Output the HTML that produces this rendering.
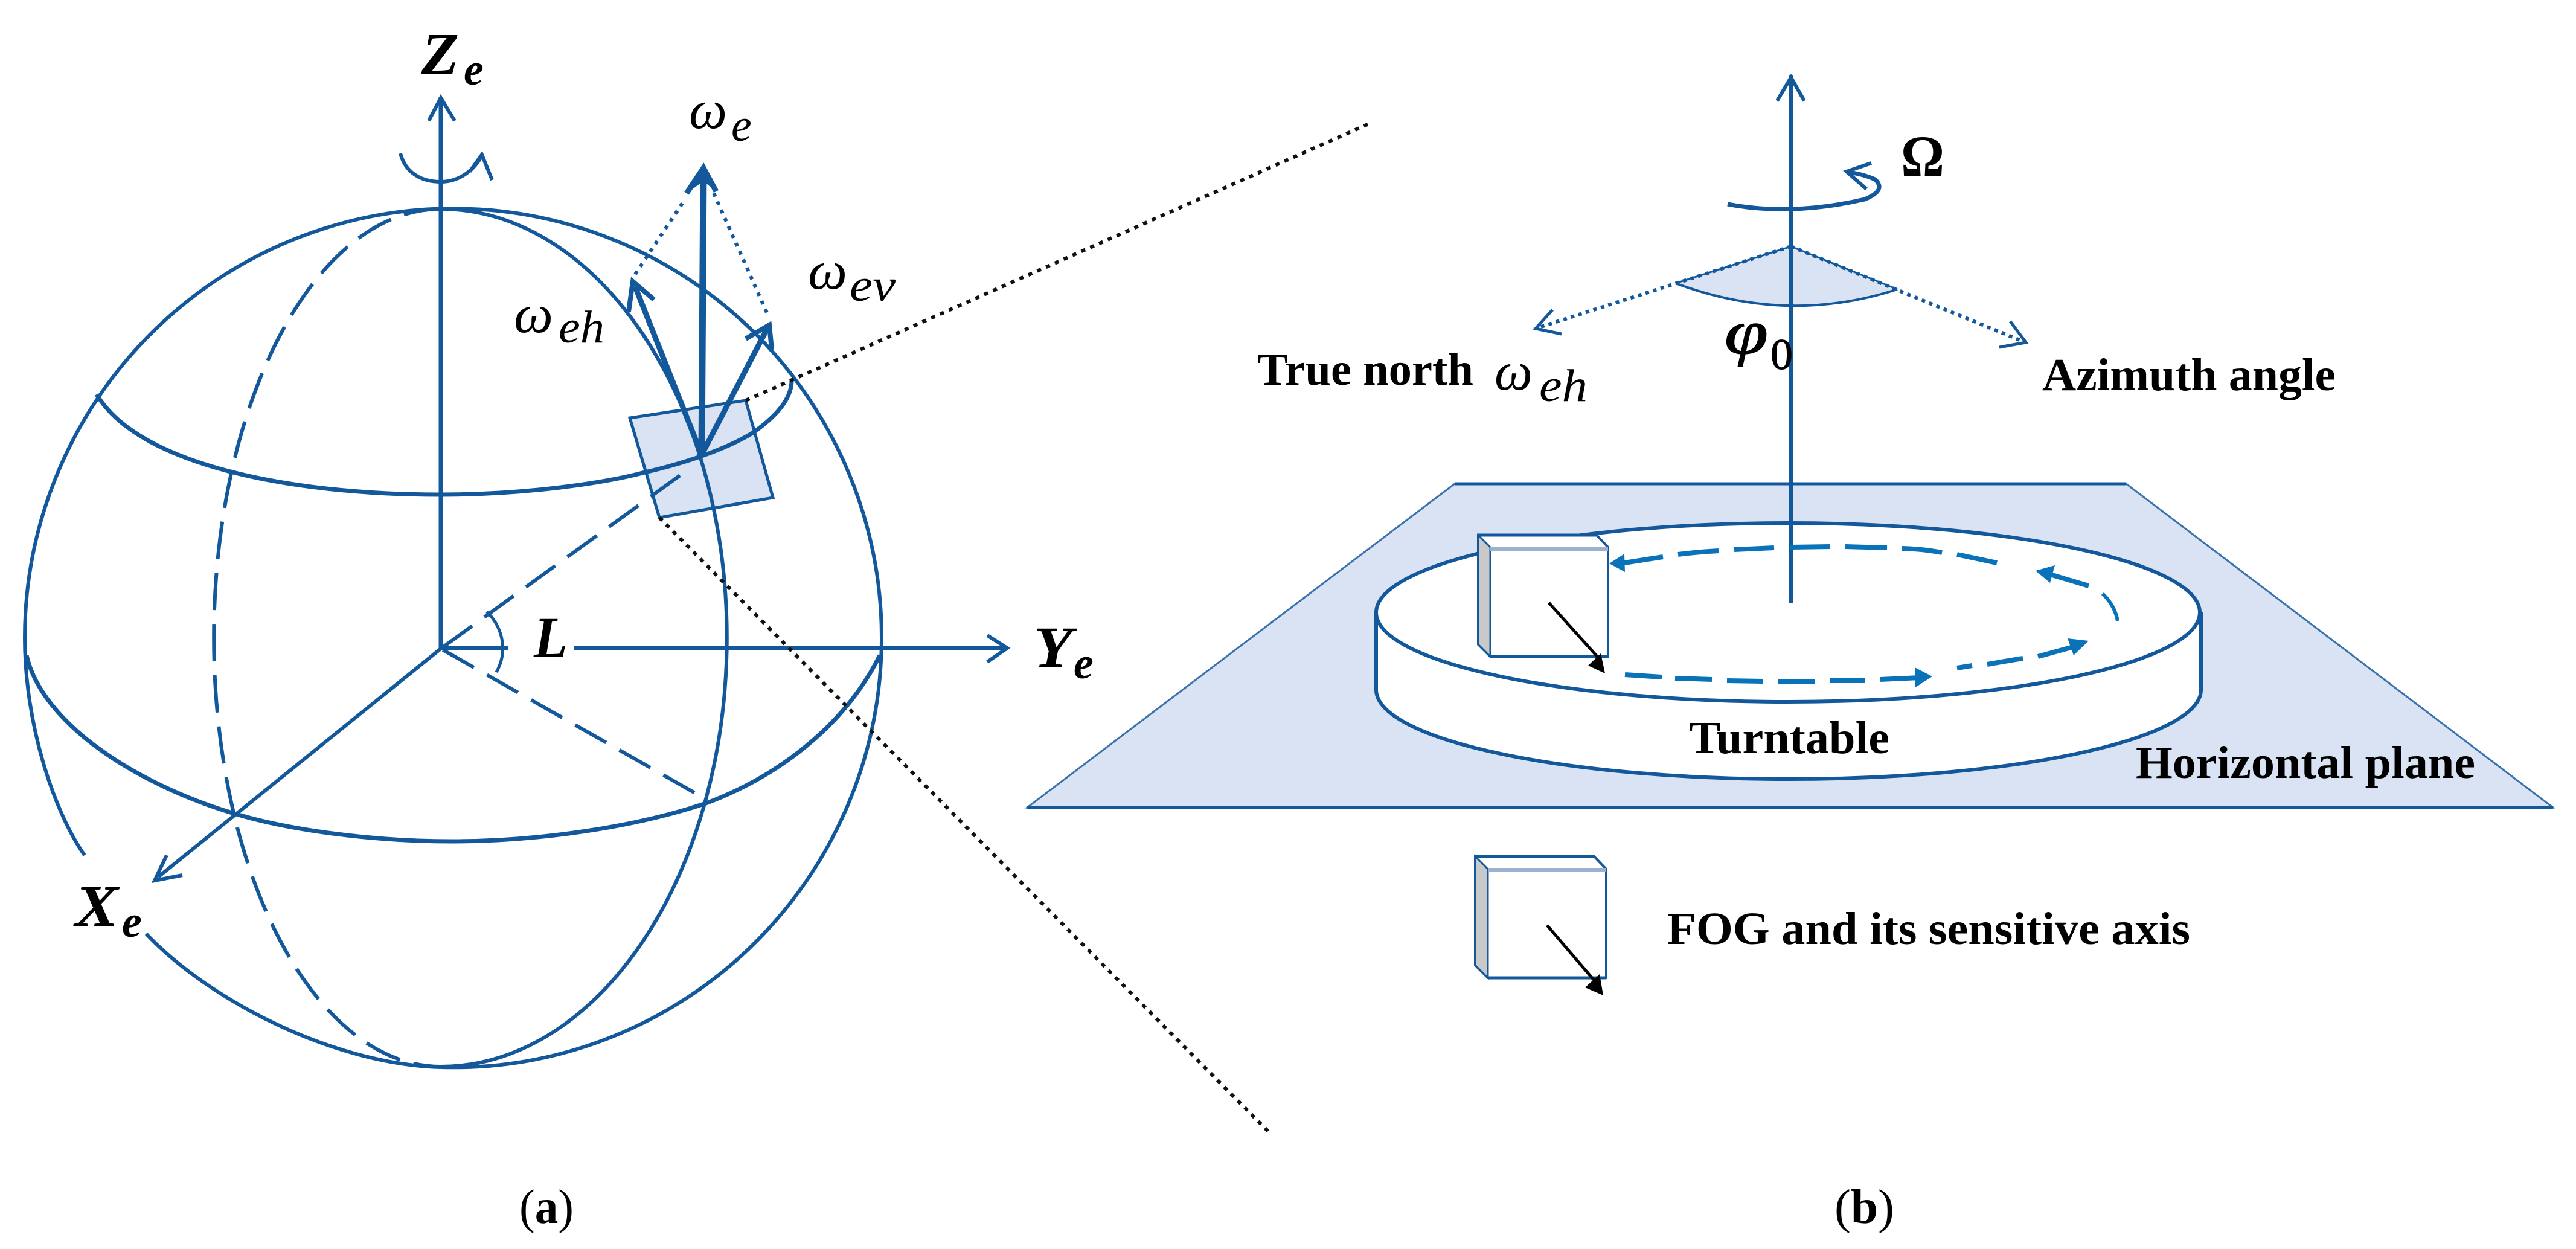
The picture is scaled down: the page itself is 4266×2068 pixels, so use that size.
<!DOCTYPE html>
<html><head><meta charset="utf-8"><style>
html,body{margin:0;padding:0;background:#fff}
svg{display:block}
text{font-family:"Liberation Serif","DejaVu Serif",serif;fill:#000}
.b{font-weight:bold}
.i{font-style:italic}
.bi{font-weight:bold;font-style:italic}
</style></head><body>
<svg width="4266" height="2068" viewBox="0 0 4266 2068" xmlns="http://www.w3.org/2000/svg">
<rect width="4266" height="2068" fill="#fff"/>
<g fill="none" stroke="#14589c" stroke-width="6">
  <!-- tangent square -->
  <polygon points="1043,692 1235,663 1280,824 1092,857" fill="#dae3f3" stroke-width="5"/>
  <!-- sphere -->
  <path d="M730,1767 A709.5,711 0 1 0 41,1056" stroke-width="6"/>
  <path d="M41,1056 C41,1200 90,1345 140,1416" stroke-width="6"/>
  <path d="M242,1546 C345,1655 550,1762 730,1767" stroke-width="6"/>
  <path d="M730,346 A474,710 0 0 1 730,1766" stroke-width="6"/>
  <path d="M730,346 A376,710 0 0 0 730,1766" stroke-width="6" stroke-dasharray="62 23"/>
  <path d="M160,653 C230,770 480,819 730,819 C870,819 1000,800 1068,782 C1130,768 1200,745 1246,717 C1285,690 1312,660 1311,628" stroke-width="7"/>
  <path d="M44,1085 C70,1200 230,1300 388,1347 C480,1375 620,1393 748,1393 C890,1393 1050,1370 1169,1330 C1290,1285 1400,1200 1457,1085" stroke-width="7"/>
  <!-- axes -->
  <path d="M730,160 V1074" stroke-width="7"/>
  <path d="M710,200 L730,162 L753,200" stroke-width="6"/>
  <path d="M663,254 C672,288 700,301 730,301 C760,301 785,282 798,258" stroke-width="6"/>
  <path d="M778,284 L798,256 L815,298" stroke-width="6"/>
  <path d="M730,1074 L262,1452" stroke-width="6"/>
  <path d="M276,1416 L256,1458 L302,1449" stroke-width="6"/>
  <path d="M730,1073 H842 M950,1073 H1666" stroke-width="7"/>
  <path d="M1635,1052 L1668,1073 L1635,1096" stroke-width="6"/>
  <path d="M806,1013 C830,1035 843,1075 822,1113" stroke-width="5"/>
  <path d="M730,1074 L1129,785" stroke-width="6" stroke-dasharray="60 25" stroke-dashoffset="-4"/>
  <path d="M730,1074 L1151,1313" stroke-width="6" stroke-dasharray="59 25" stroke-dashoffset="-4"/>
  <!-- omega vectors -->
  <path d="M1052,454 L1135,329 M1182,320 L1271,520" stroke-width="6" stroke-dasharray="6 9"/>
  <path d="M1162,753 L1165,285" stroke-width="11"/>
  <path d="M1137,320 L1165,278 L1186,317" stroke-width="9"/>
  <polygon points="1137,320 1165,276 1186,317 1165,300" fill="#14589c" stroke="none"/>
  <path d="M1162,753 L1052,475" stroke-width="9"/>
  <path d="M1041,516 L1048,466 L1083,496" stroke-width="8"/>
  <path d="M1162,753 L1270,545" stroke-width="9"/>
  <path d="M1235,561 L1274,538 L1278,579" stroke-width="8"/>
</g>
<!-- black dotted -->
<path d="M1235,663 L2269,204" fill="none" stroke="#111" stroke-width="6" stroke-dasharray="7 9"/>
<path d="M1092,857 L2102,1875" fill="none" stroke="#111" stroke-width="6" stroke-dasharray="7 9"/>

<!-- Right panel -->
<polygon points="2409,801 3521,801 4228,1337 1701,1337" fill="#dae3f3" stroke="#3a72ab" stroke-width="3"/>
<path d="M2409,801 H3521 M1701,1337 H4228" stroke="#14589c" stroke-width="5" fill="none"/>
<g stroke="#14589c" fill="none">
  <!-- cylinder -->
  <path d="M2279,1014 V1142 A683,148 0 0 0 3645,1142 V1014 Z" fill="#fff" stroke="none"/>
  <path d="M2279,1014 V1142 A683,148 0 0 0 3645,1142 V1014" stroke-width="6"/>
  <ellipse cx="2961" cy="1014" rx="682" ry="148" fill="#fff" stroke-width="6"/>
  <!-- fan -->
  <path d="M2966,408 L2775,469 Q2960,538 3142,479 Z" fill="#dae3f3" stroke="none"/>
  <path d="M2775,469 Q2960,538 3142,479" stroke-width="4"/>
  <path d="M2966,408 L2775,469 M2966,408 L3142,479" stroke-width="3"/>
  <!-- axis -->
  <path d="M2966,125 V999" stroke-width="7"/>
  <path d="M2943,167 L2966,128 L2988,167" stroke-width="6"/>
  <path d="M2861,338 Q2966,358 3088,330 Q3125,315 3105,297 Q3085,288 3060,285" stroke-width="7"/>
  <path d="M3099,270 L3058,284 L3091,313" stroke-width="6"/>
  <path d="M2966,408 L2546,543 M2966,408 L3352,566" stroke-width="6" stroke-dasharray="6 7"/>
  <path d="M2571,513 L2543,544 L2586,553" stroke-width="5"/>
  <path d="M3329,532 L3355,567 L3311,575" stroke-width="5"/>
</g>
<!-- blue rotation arrows -->
<g fill="none" stroke="#0a72b8" stroke-width="8">
  <path d="M3307,932 L3241,918 M3216,915 Q3185,909 3150,908 M3125,907 L3056,905 M3031,905 L2965,906 M2938,907 L2872,910 M2846,912 Q2810,914 2779,918 M2754,922 L2690,932"/>
  <path d="M3459,970 L3385,948"/>
  <path d="M3482,983 Q3502,1002 3507,1028" stroke-width="6"/>
  <path d="M3241,1106 L3266,1102 M3291,1100 Q3325,1094 3350,1090 M3375,1087 L3430,1072"/>
  <path d="M2691,1117 L2752,1121 M2774,1123 L2835,1125 M2860,1127 L2920,1128 M2945,1128 L3005,1128 M3030,1127 L3089,1127 M3114,1125 L3179,1122"/>
</g>
<g fill="#0a72b8">
  <polygon points="2665,933 2690,917 2691,947"/>
  <polygon points="3371,945 3403,936 3395,965"/>
  <polygon points="3459,1061 3424,1057 3434,1085"/>
  <polygon points="3200,1120 3171,1105 3172,1138"/>
</g>
<!-- FOG on disk -->
<g stroke="#14589c" stroke-width="4">
  <polygon points="2448,886 2644,886 2663,906 2663,1087 2468,1087 2448,1067" fill="#fff"/>
  <polygon points="2448,886 2468,906 2468,1087 2448,1067" fill="#c9c9c9" stroke-width="3"/>
  <rect x="2468" y="905" width="195" height="7" fill="#9ab1d0" stroke="none"/>
  <path d="M2448,886 H2644" fill="none" stroke-width="5"/>
  <path d="M2468,1087 H2663" fill="none" stroke-width="5"/>
</g>
<path d="M2565,998 L2648,1095" fill="none" stroke="none"/>
<path d="M2565,998 L2646,1088" fill="none" stroke="#000" stroke-width="5"/>
<polygon points="2658,1115 2651,1082 2630,1102" fill="#000"/>
<!-- legend FOG -->
<g stroke="#14589c" stroke-width="4">
  <polygon points="2443,1418 2640,1418 2660,1439 2660,1619 2464,1619 2443,1598" fill="#fff"/>
  <polygon points="2443,1418 2464,1439 2464,1619 2443,1598" fill="#c9c9c9" stroke-width="3"/>
  <rect x="2464" y="1437" width="196" height="6" fill="#9ab1d0" stroke="none"/>
  <path d="M2443,1418 H2640 M2464,1619 H2660" fill="none" stroke-width="5"/>
</g>
<path d="M2562,1532 L2639,1622" fill="none" stroke="#000" stroke-width="5"/>
<polygon points="2655,1648 2649,1613 2625,1635" fill="#000"/>

<!-- Labels left -->
<text class="bi" x="698" y="122" font-size="98" textLength="62" lengthAdjust="spacingAndGlyphs">Z</text>
<text class="bi" x="768" y="140" font-size="74">e</text>
<text class="i" x="1141" y="212" font-size="90" textLength="63" lengthAdjust="spacingAndGlyphs">ω</text>
<text class="i" x="1211" y="233" font-size="76">e</text>
<text class="i" x="851" y="550" font-size="90" textLength="65" lengthAdjust="spacingAndGlyphs">ω</text>
<text class="i" x="925" y="567" font-size="76" textLength="76" lengthAdjust="spacingAndGlyphs">eh</text>
<text class="i" x="1338" y="478" font-size="90" textLength="65" lengthAdjust="spacingAndGlyphs">ω</text>
<text class="i" x="1407" y="498" font-size="76" textLength="76" lengthAdjust="spacingAndGlyphs">ev</text>
<text class="bi" x="884" y="1088" font-size="96" textLength="56" lengthAdjust="spacingAndGlyphs">L</text>
<text class="bi" x="1712" y="1104" font-size="96" textLength="64" lengthAdjust="spacingAndGlyphs">Y</text>
<text class="bi" x="1778" y="1123" font-size="74">e</text>
<text class="bi" x="124" y="1533" font-size="98" textLength="72" lengthAdjust="spacingAndGlyphs">X</text>
<text class="bi" x="202" y="1551" font-size="74">e</text>
<text x="860" y="2025" font-size="80" textLength="90" lengthAdjust="spacingAndGlyphs">(<tspan class="b">a</tspan>)</text>

<!-- Labels right -->
<text class="b" x="3148" y="291" font-size="96" textLength="72" lengthAdjust="spacingAndGlyphs">Ω</text>
<text class="i" x="2856" y="585" font-size="104" textLength="72" lengthAdjust="spacingAndGlyphs" stroke="#000" stroke-width="1.5">φ</text>
<text x="2932" y="611" font-size="72" textLength="37" lengthAdjust="spacingAndGlyphs" stroke="#000" stroke-width="1">0</text>
<text class="b" x="2082" y="637" font-size="76" textLength="358" lengthAdjust="spacingAndGlyphs">True north</text>
<text class="i" x="2475" y="645" font-size="90" textLength="63" lengthAdjust="spacingAndGlyphs">ω</text>
<text class="i" x="2549" y="664" font-size="76" textLength="80" lengthAdjust="spacingAndGlyphs">eh</text>
<text class="b" x="3382" y="646" font-size="76" textLength="486" lengthAdjust="spacingAndGlyphs">Azimuth angle</text>
<text class="b" x="2797" y="1247" font-size="76" textLength="332" lengthAdjust="spacingAndGlyphs">Turntable</text>
<text class="b" x="3537" y="1288" font-size="76" textLength="562" lengthAdjust="spacingAndGlyphs">Horizontal plane</text>
<text class="b" x="2761" y="1563" font-size="76" textLength="866" lengthAdjust="spacingAndGlyphs">FOG and its sensitive axis</text>
<text x="3038" y="2025" font-size="80" textLength="99" lengthAdjust="spacingAndGlyphs">(<tspan class="b">b</tspan>)</text>
</svg>
</body></html>
